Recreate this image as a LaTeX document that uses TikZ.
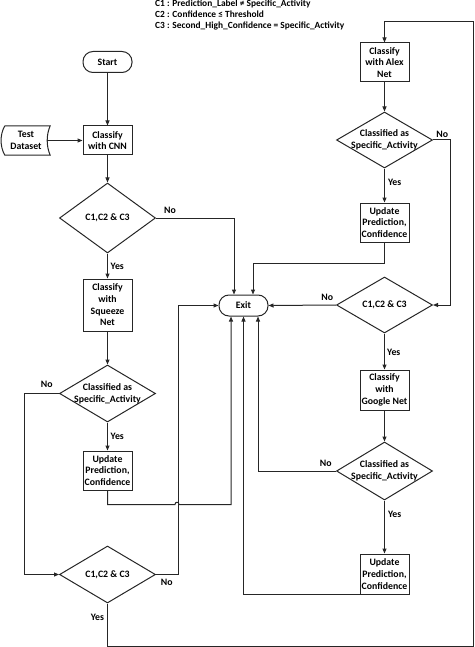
\documentclass[tikz,border=0pt]{standalone}
\usepackage{fontspec}
\setmainfont{Carlito}
\usetikzlibrary{arrows.meta,shapes.geometric}
\newcommand{\dtxt}[1]{\smash{\makebox[0pt]{\raisebox{-3pt}{\begin{tabular}{@{}c@{}}#1\end{tabular}}}}}
\begin{document}
\begin{tikzpicture}[x=1pt,y=-1pt,
  every node/.style={font=\fontsize{9.8}{11.7}\selectfont\bfseries, inner sep=0pt, align=center},
  box/.style={draw=black!85, rectangle, minimum width=49pt, line width=1pt},
  term/.style={draw=black!85, rectangle, rounded corners=10pt, minimum width=49pt, minimum height=21pt, line width=1pt},
  dia/.style={draw=black!85, diamond, minimum width=96pt, minimum height=#1, line width=1pt},
  dia/.default=56pt,
  line/.style={draw=black!85, line width=1pt, -{Triangle[length=5pt,width=4pt]}},
  plain/.style={draw=black!85, line width=1pt},
  lbl/.style={}
]
\useasboundingbox (0,0) rectangle (474,647);

% legend
\node[anchor=west, align=left, font=\fontsize{9.4}{11.1}\selectfont\bfseries] (legend) at (155,14.6)
  {C1 : Prediction\_Label ≠ Specific\_Activity\\C2 : Confidence ≤ Threshold\\C3 : Second\_High\_Confidence = Specific\_Activity};

% left column
\node[term] (start) at (107.5,62) {Start};
\node[box, minimum height=29pt] (cnn) at (107.5,140.5) {Classify\\with CNN};
\node[minimum width=48pt, minimum height=29pt] (test) at (26,140.5) {Test\\Dataset};
\draw[plain] ([xshift=3pt]test.north west) -- (test.north east)
  .. controls ([xshift=-4pt,yshift=-9pt]test.north east) and ([xshift=-4pt,yshift=9pt]test.south east) .. (test.south east)
  -- ([xshift=3pt]test.south west)
  .. controls ([xshift=-2pt,yshift=9pt]test.south west) and ([xshift=-2pt,yshift=-9pt]test.north west) .. ([xshift=3pt]test.north west);
\node[dia=70pt] (d1) at (107.5,218) {\dtxt{C1,C2 \& C3}};
\node[box, minimum height=52pt] (sq) at (107.5,305) {Classify\\with\\Squeeze\\Net};
\node[dia=57pt] (d2) at (107.5,393.5) {\dtxt{Classified as\\Specific\_Activity}};
\node[box, minimum height=39pt] (u1) at (107.5,470.5) {Update\\Prediction,\\Confidence};
\node[dia=57pt] (d3) at (107.5,574.5) {\dtxt{C1,C2 \& C3}};

% middle
\node[term] (exit) at (243.5,305.5) {Exit};

% right column
\node[box, minimum height=39pt] (alex) at (384.5,62.5) {Classify\\with Alex\\Net};
\node[dia] (d4) at (384.5,140) {\dtxt{Classified as\\Specific\_Activity}};
\node[box, minimum height=39pt] (u2) at (384.5,222.5) {Update\\Prediction,\\Confidence};
\node[dia] (d5) at (384.5,305) {\dtxt{C1,C2 \& C3}};
\node[box, minimum height=40pt] (google) at (384.5,390) {Classify\\with\\Google Net};
\node[dia=58pt] (d6) at (384.5,471) {\dtxt{Classified as\\Specific\_Activity}};
\node[box, minimum height=40pt] (u3) at (384.5,574) {Update\\Prediction,\\Confidence};

% labels
\node[lbl] (y1) at (117.3,266) {Yes};
\node[lbl] (n1) at (170,210) {No};
\node[lbl] (n2) at (46.7,384) {No};
\node[lbl] (y2) at (117.3,436.7) {Yes};
\node[lbl] (n3) at (166.7,582.3) {No};
\node[lbl] (y3) at (97.5,617.7) {Yes};
\node[lbl] (n4) at (442.3,134) {No};
\node[lbl] (y4) at (394.7,182.3) {Yes};
\node[lbl] (n5) at (327.2,297.3) {No};
\node[lbl] (y5) at (393.8,352) {Yes};
\node[lbl] (n6) at (325.8,463.3) {No};
\node[lbl] (y6) at (394.7,514) {Yes};

% coordinates
\coordinate (br) at (473,646.5);
\coordinate (tr) at (473,22);

% connectors
\draw[line] (start) -- (cnn);
\draw[line] ([xshift=-3pt]test.east) -- (cnn.west);
\draw[line] (cnn) -- (d1);
\draw[line] (d1) -- (sq);
\draw[line] (d1.east) -| ([xshift=-9.5pt]exit.north);
\draw[line] (sq) -- (d2);
\draw[line] (d2) -- (u1);
\draw[line] (d2.west) -- ++(-35,0) |- (d3.west);
\draw[line] (u1.south) |- (175,504.5) .. controls (175,501.5) and (179,501.5) .. (179,504.5) -| ([xshift=-12.5pt]exit.south);
\draw[line] (d3.east) -- ++(22,0) |- (exit.west);
\draw[line] (d3.south) |- (br) -- (tr) -| (alex.north);
\draw[line] (alex) -- (d4);
\draw[line] (d4) -- (u2);
\draw[line] (d4.east) -- ++(17,0) |- (d5.east);
\draw[line] (u2.south) -- ++(0,21) -| ([xshift=9.5pt]exit.north);
\draw[line] (d5.west) -- (exit.east);
\draw[line] (d5) -- (google);
\draw[line] (google) -- (d6);
\draw[line] (d6) -- (u3);
\draw[line] (d6.west) -| ([xshift=14.5pt]exit.south);
\draw[line] (u3.south west) -| (exit.south);
\end{tikzpicture}
\end{document}
